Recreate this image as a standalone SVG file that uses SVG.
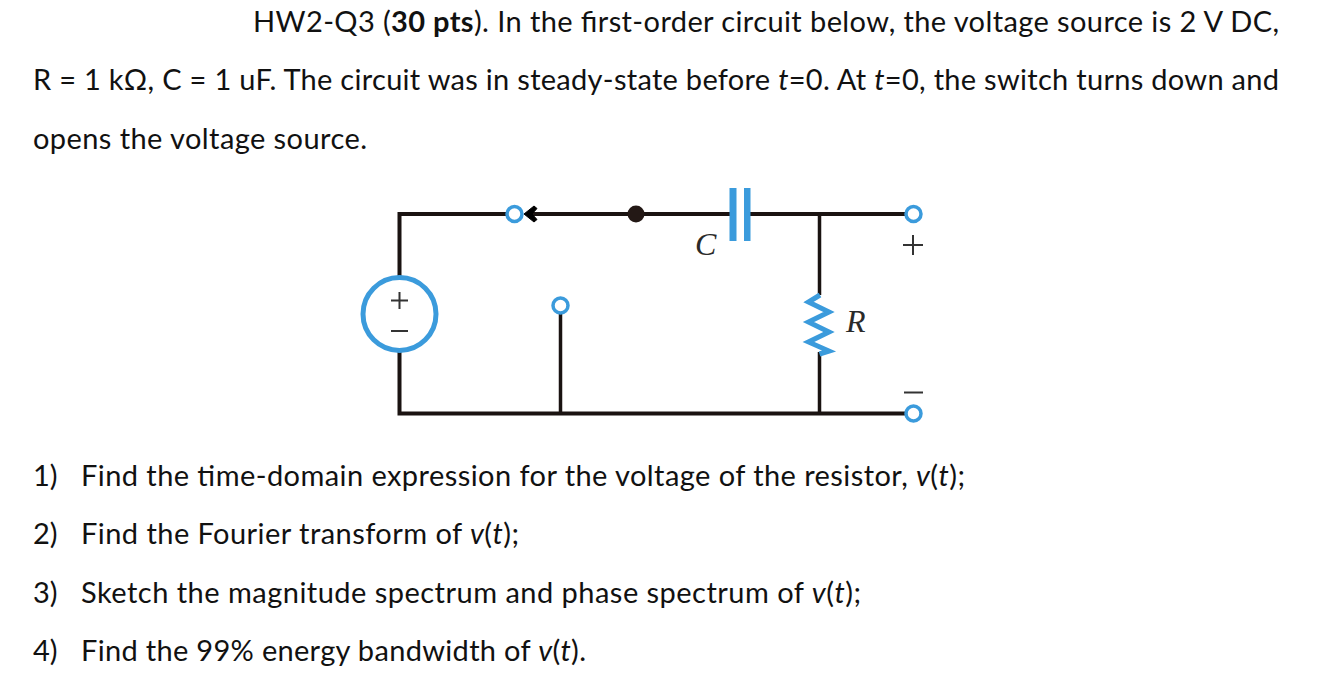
<svg xmlns="http://www.w3.org/2000/svg" width="1318" height="690" viewBox="0 0 1318 690">
<style>
.t{font-family:"Lato","Carlito","Liberation Sans",sans-serif;font-size:29px;fill:#111}
.w{fill:none;stroke:#1a1311;stroke-width:4}
.w2{fill:none;stroke:#1a1311;stroke-width:3.500}
.b{fill:#fff;stroke:#3b9bdc;stroke-width:3.500}
.s{font-family:"Liberation Serif",serif;font-style:italic;font-size:32px;fill:#2a2a2a}
.p{fill:none;stroke:#333;stroke-width:2}
</style>
<rect width="1318" height="690" fill="#fff"/>
<g id="text">
<text class="t" x="253" y="32" textLength="1026" lengthAdjust="spacing">HW2-Q3 (<tspan font-weight="700">30 pts</tspan>). In the first-order circuit below, the voltage source is 2 V DC,</text>
<text class="t" x="33" y="90" textLength="1246" lengthAdjust="spacing">R = 1 kΩ, C = 1 uF. The circuit was in steady-state before <tspan font-style="italic">t</tspan>=0. At <tspan font-style="italic">t</tspan>=0, the switch turns down and</text>
<text class="t" x="33" y="149" textLength="334" lengthAdjust="spacing">opens the voltage source.</text>
<text class="t" x="33" y="486">1)</text>
<text class="t" x="81" y="486" textLength="884" lengthAdjust="spacing">Find the time-domain expression for the voltage of the resistor, <tspan font-style="italic">v</tspan>(<tspan font-style="italic">t</tspan>);</text>
<text class="t" x="33" y="544">2)</text>
<text class="t" x="81" y="544" textLength="438" lengthAdjust="spacing">Find the Fourier transform of <tspan font-style="italic">v</tspan>(<tspan font-style="italic">t</tspan>);</text>
<text class="t" x="33" y="603">3)</text>
<text class="t" x="81" y="603" textLength="780" lengthAdjust="spacing">Sketch the magnitude spectrum and phase spectrum of <tspan font-style="italic">v</tspan>(<tspan font-style="italic">t</tspan>);</text>
<text class="t" x="33" y="661">4)</text>
<text class="t" x="81" y="661" textLength="505" lengthAdjust="spacing">Find the 99% energy bandwidth of <tspan font-style="italic">v</tspan>(<tspan font-style="italic">t</tspan>).</text>
</g>
<g id="connectors">
<path class="w" d="M399.500 276V214H507"/>
<path class="w" d="M399.500 352V413.500H905"/>
<path class="w" d="M527 214H636"/>
<path class="w" d="M636 214H730M750 214H905"/>
<path class="w2" d="M560.500 312V413"/>
<path class="w2" d="M819.500 214V295M819.500 352V413"/>
<path d="M524 214L534 206L537 208.500L532 214L537 219.500L534 222Z" fill="#000" stroke="#000" stroke-width="1"/>
</g>
<g id="source">
<circle cx="399.500" cy="314" r="36.500" fill="#fff" stroke="#3b9bdc" stroke-width="5"/>
<path class="p" d="M391 300.500H408M399.500 292V309M391 331H408"/>
</g>
<g id="switch-a"><circle class="b" cx="514.500" cy="214" r="7.500"/></g>
<g id="switch-b"><circle class="b" cx="560.500" cy="305.500" r="7.500"/></g>
<g id="switch-pivot"><circle cx="636" cy="214" r="8.500" fill="#231815"/></g>
<g id="capacitor">
<rect x="729.500" y="188" width="7" height="53" fill="#3b9bdc"/>
<rect x="744" y="188" width="6.500" height="53" fill="#3b9bdc"/>
<text class="s" x="695" y="255">C</text>
</g>
<g id="resistor">
<path d="M820 295L808.500 302L829 312L808.500 322L829 332L808.500 342L829 351L819.500 354" fill="none" stroke="#3b9bdc" stroke-width="5"/>
<text class="s" x="846" y="332">R</text>
</g>
<g id="terminal-plus">
<circle class="b" cx="913.500" cy="214" r="7.500"/>
<path class="p" d="M903 245H923M913 235V255"/>
</g>
<g id="terminal-minus">
<circle class="b" cx="913.500" cy="413.500" r="7.500"/>
<path class="p" d="M904 392.500H923"/>
</g>
</svg>
